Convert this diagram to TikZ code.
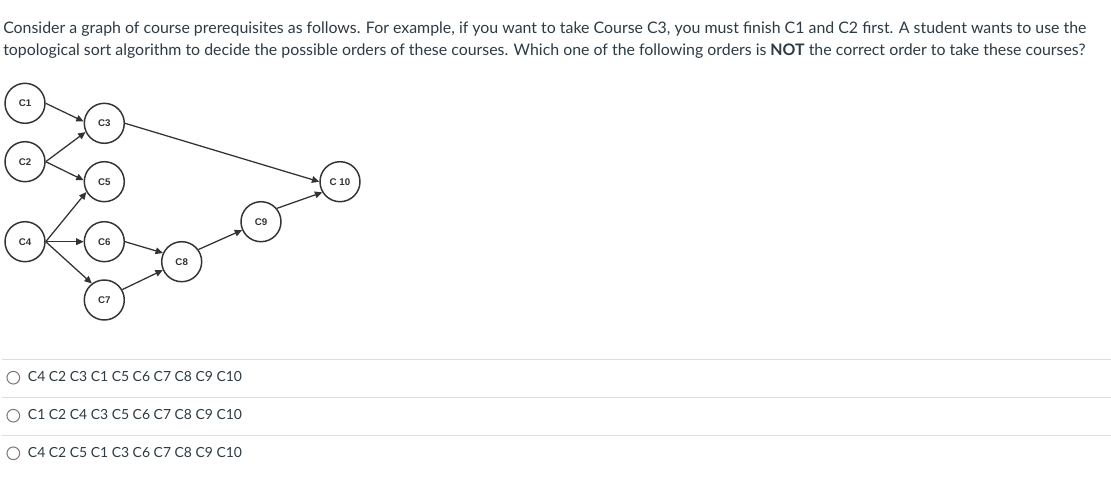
\documentclass[tikz,border=0pt]{standalone}
\usepackage{fontspec}
\setmainfont{Lato}
\newfontfamily\nodefont{Liberation Sans}
\usetikzlibrary{arrows.meta}
\definecolor{txt}{HTML}{2D3B45}
\definecolor{gline}{HTML}{333333}
\definecolor{sep}{HTML}{DDDDDD}
\definecolor{radio}{HTML}{777777}
\begin{document}
\begin{tikzpicture}[x=0.75pt,y=-0.75pt,
  course/.style={circle,draw=gline,line width=1.1pt,minimum size=30pt,inner sep=0pt,
     font=\nodefont\bfseries\fontsize{7.3pt}{8pt}\selectfont,text=gline},
  edge/.style={draw=gline,line width=0.95pt,-{Triangle[length=5.5pt,width=5pt]}},
  qtext/.style={anchor=base west,inner sep=0pt,text=txt,font=\fontsize{11.92pt}{14pt}\selectfont},
  otext/.style={anchor=base west,inner sep=0pt,text=txt,font=\fontsize{10.45pt}{13pt}\selectfont},
  sepline/.style={draw=sep,line width=0.75pt},
  radiob/.style={circle,draw=radio,line width=0.75pt,minimum size=9.5pt,inner sep=0pt}]
\useasboundingbox (0,0) rectangle (1111,484);
\fill[white] (0,0) rectangle (1111,484);
% question
\node[qtext] (q1) at (3,33.3) {Consider a graph of course prerequisites as follows. For example, if you want to take Course C3, you must finish C1 and C2 first. A student wants to use the};
\node[qtext] (q2) at (3,55.5) {topological sort algorithm to decide the possible orders of these courses. Which one of the following orders is \textbf{NOT} the correct order to take these courses?};
% graph nodes
\node[course] (c1) at (25,103.3) {C1};
\node[course] (c2) at (25,161.7) {C2};
\node[course] (c4) at (25,241.7) {C4};
\node[course] (c3) at (104.3,123.3) {C3};
\node[course] (c5) at (104.3,181.7) {C5};
\node[course] (c6) at (104.3,241.7) {C6};
\node[course] (c7) at (104.3,300) {C7};
\node[course] (c8) at (181.7,261.7) {C8};
\node[course] (c9) at (261,221.7) {C9};
\node[course] (c10) at (340,181.7) {C 10};
% edges
\draw[edge] (c1.east) -- (c3.175);
\draw[edge] (c2.east) -- (c3.205);
\draw[edge] (c2.east) -- (c5.176);
\draw[edge] (c4.east) -- (c5.210);
\draw[edge] (c4.east) -- (c6.west);
\draw[edge] (c4.east) -- (c7.127);
\draw[edge] (c6.east) -- (c8.155);
\draw[edge] (c7.30) -- (c8.204);
\draw[edge] (c8.36) -- (c9.204);
\draw[edge] (c9.40) -- (c10.211);
\draw[edge] (c3.east) -- (c10.west);
% options
\coordinate (s1a) at (2,360); \coordinate (s1b) at (1111,360);
\coordinate (s2a) at (2,398); \coordinate (s2b) at (1111,398);
\coordinate (s3a) at (2,436); \coordinate (s3b) at (1111,436);
\draw[sepline] (s1a) -- (s1b);
\draw[sepline] (s2a) -- (s2b);
\draw[sepline] (s3a) -- (s3b);
\node[radiob] (r1) at (13.3,377.7) {};
\node[radiob] (r2) at (13.3,415.7) {};
\node[radiob] (r3) at (13.3,453.3) {};
\node[otext] (o1) at (27.7,382) {C4 C2 C3 C1 C5 C6 C7 C8 C9 C10};
\node[otext] (o2) at (27.7,420) {C1 C2 C4 C3 C5 C6 C7 C8 C9 C10};
\node[otext] (o3) at (27.7,457.7) {C4 C2 C5 C1 C3 C6 C7 C8 C9 C10};
\end{tikzpicture}
\end{document}
